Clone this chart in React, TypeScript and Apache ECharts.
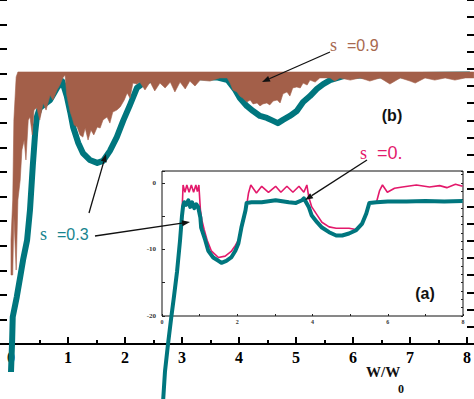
import React, { useEffect, useRef } from "react";
import * as echarts from "echarts";

// ---------- data (main panel b: x = w/w0, y = tick units) ----------
const brownTopX = [0, 0.03, 0.05, 0.09, 0.12, 8.05];
const brownTopY = [4.23, 5.86, 9.12, 10.87, 11.07, 11.07];

const brownLowX = [0.0, 0.03, 0.05, 0.09, 0.12, 0.16, 0.19, 0.23, 0.26, 0.3, 0.33, 0.37, 0.4, 0.45, 0.5, 0.56, 0.61, 0.68, 0.73, 0.8, 0.85, 0.9, 0.94, 0.97, 1.03, 1.06, 1.1, 1.15, 1.2, 1.25, 1.29, 1.34, 1.39, 1.44, 1.5, 1.55, 1.6, 1.67, 1.72, 1.77, 1.84, 1.9, 1.97, 2.02, 2.07, 2.12, 2.19, 2.24, 2.33, 2.42, 2.5, 2.59, 2.68, 2.77, 2.85, 2.94, 3.03, 3.11, 3.2, 3.29, 3.46, 3.63, 3.76, 3.81, 3.86, 3.93, 3.98, 4.03, 4.1, 4.16, 4.21, 4.28, 4.33, 4.38, 4.45, 4.5, 4.56, 4.63, 4.68, 4.73, 4.8, 4.85, 4.9, 4.97, 5.03, 5.08, 5.15, 5.2, 5.29, 5.37, 5.55, 5.63, 5.72, 5.9, 6.07, 6.24, 6.42, 6.59, 6.77, 6.94, 7.03, 7.2, 7.37, 7.55, 7.72, 7.9, 8.05];
const brownLowY = [2.81, 2.81, 5.25, 3.01, 5.86, 6.67, 7.9, 8.3, 7.49, 9.12, 9.24, 8.51, 9.52, 9.61, 9.12, 9.81, 9.52, 10.13, 9.93, 10.34, 10.54, 10.83, 10.95, 10.13, 9.44, 9.24, 8.91, 8.83, 8.51, 8.42, 8.79, 8.3, 8.71, 8.51, 8.83, 8.79, 9.12, 9.24, 8.99, 9.44, 9.52, 9.65, 9.93, 10.22, 10.01, 10.62, 10.58, 10.66, 10.34, 10.66, 10.3, 10.62, 10.42, 10.66, 10.26, 10.66, 10.38, 10.7, 10.5, 10.74, 10.7, 10.83, 10.83, 10.62, 10.34, 10.26, 10.09, 10.01, 9.85, 9.93, 9.77, 9.81, 9.69, 9.77, 9.81, 9.73, 9.89, 9.93, 9.81, 10.18, 10.26, 10.09, 10.42, 10.46, 10.42, 10.62, 10.54, 10.74, 10.66, 10.83, 10.83, 10.7, 10.83, 10.74, 10.83, 10.7, 10.83, 10.58, 10.83, 10.7, 10.62, 10.83, 10.74, 10.83, 10.74, 10.83, 10.83];

const tealMainX = [0.0, 0.02, 0.03, 0.1, 0.16, 0.21, 0.28, 0.33, 0.38, 0.42, 0.45, 0.5, 0.68, 0.8, 0.89, 0.97, 1.03, 1.08, 1.17, 1.25, 1.37, 1.5, 1.6, 1.72, 1.84, 1.95, 2.07, 2.19, 2.3, 2.47, 2.94, 3.58, 3.77, 3.9, 3.98, 4.1, 4.21, 4.33, 4.45, 4.56, 4.64, 4.73, 4.85, 4.97, 5.08, 5.2, 5.32, 5.43, 5.55, 5.81, 7.98];
const tealMainY = [-1.14, 0.16, 1.1, 1.91, 2.73, 3.42, 4.23, 5.45, 7.29, 8.59, 9.24, 9.61, 9.93, 10.42, 10.7, 10.09, 9.44, 8.83, 8.18, 7.77, 7.49, 7.37, 7.45, 7.86, 8.42, 9.08, 9.73, 10.42, 10.62, 10.8, 10.87, 10.85, 10.74, 10.34, 10.01, 9.69, 9.48, 9.28, 9.2, 9.08, 8.99, 9.12, 9.28, 9.48, 9.85, 10.09, 10.38, 10.58, 10.74, 10.92, 10.97];

// ---------- inset (a) ----------
const insetPinkX = [0.03, 0.08, 0.16, 0.24, 0.32, 0.4, 0.48, 0.53, 0.56, 0.61, 0.66, 0.72, 0.78, 0.84, 0.9, 0.94, 0.98, 1.02, 1.06, 1.12, 1.2, 1.31, 1.5, 1.68, 1.84, 1.95, 2.03, 2.11, 2.22, 2.3, 2.36, 2.51, 2.65, 2.83, 3.02, 3.16, 3.32, 3.48, 3.64, 3.77, 3.85, 3.9, 3.98, 4.12, 4.25, 4.44, 4.63, 4.97, 5.16, 5.32, 5.43, 5.51, 5.7, 5.78, 5.86, 5.99, 6.18, 6.39, 6.76, 7.11, 7.38, 7.57, 7.8, 7.99];
const insetPinkY = [-32.7, -28.3, -24.2, -20.5, -17.0, -13.3, -8.6, -4.9, -0.3, -1.4, -0.3, -1.4, -0.3, -1.4, -0.3, -1.3, -0.3, -4.0, -5.6, -7.0, -8.6, -10.2, -11.2, -11.0, -10.3, -9.4, -8.6, -7.0, -4.5, -1.5, -0.3, -1.5, -0.5, -1.4, -0.5, -1.4, -0.5, -1.4, -0.5, -1.4, -0.3, -2.1, -3.6, -4.8, -5.9, -6.6, -6.8, -6.8, -7.0, -6.0, -4.6, -3.0, -2.9, -1.2, -0.3, -1.4, -0.8, -0.6, -0.3, -0.6, -0.4, -0.7, -0.2, -0.5];

const insetTealX = [0.03, 0.08, 0.16, 0.24, 0.32, 0.4, 0.48, 0.53, 0.56, 0.59, 0.64, 0.7, 0.75, 0.8, 0.86, 0.91, 0.96, 1.02, 1.04, 1.15, 1.23, 1.36, 1.5, 1.58, 1.71, 1.84, 1.95, 2.03, 2.11, 2.22, 2.25, 2.38, 2.65, 3.02, 3.37, 3.56, 3.72, 3.77, 3.9, 3.98, 4.12, 4.25, 4.44, 4.63, 4.79, 4.97, 5.16, 5.32, 5.43, 5.51, 5.7, 6.0, 6.5, 7.0, 7.5, 7.99];
const insetTealY = [-32.7, -28.3, -24.2, -20.5, -17.0, -13.3, -8.6, -5.0, -3.5, -2.9, -3.3, -2.6, -3.6, -2.9, -3.8, -3.2, -3.6, -5.2, -6.7, -8.6, -10.2, -11.2, -11.7, -12.0, -11.7, -11.2, -10.2, -9.1, -6.7, -4.1, -3.0, -2.9, -2.9, -2.6, -2.9, -3.0, -2.6, -2.3, -3.6, -4.9, -5.9, -6.7, -7.4, -7.9, -7.9, -7.6, -7.1, -6.1, -4.6, -3.0, -2.9, -2.8, -2.8, -2.7, -2.8, -2.7];

const mainXTicks = [0, 8];
const insetYLabelStep = 10;

// ---------- style ----------
const BROWN = "#a35f49";
const TEAL = "#00767e";
const PINK = "#e3196b";
const SERIF = "'Liberation Serif', 'Times New Roman', serif";
const SANS = "'Liberation Sans', Arial, sans-serif";

const W = 474;
const H = 399;
const AXIS_Y = 344; // main x-axis line
const PX_PER_X = 57.5;
const X0_PX = 11;
const PX_PER_Y = AXIS_Y / 14;

function arrow(x1: number, y1: number, x2: number, y2: number) {
  const a = Math.atan2(y2 - y1, x2 - x1);
  const L = 8;
  const Wd = 3;
  const c = Math.cos(a);
  const s = Math.sin(a);
  const bx = x2 - L * c;
  const by = y2 - L * s;
  return [
    {
      type: "line",
      shape: { x1, y1, x2: bx, y2: by },
      style: { stroke: "#111", lineWidth: 1.3 },
      z: 20,
    },
    {
      type: "polygon",
      shape: {
        points: [
          [x2, y2],
          [bx + Wd * s, by - Wd * c],
          [bx - Wd * s, by + Wd * c],
        ],
      },
      style: { fill: "#111" },
      z: 20,
    },
  ];
}

function label(x: number, y: number, val: string, color: string, size: number) {
  return [
    {
      type: "text",
      x,
      y,
      style: { text: "s", font: `18px ${SERIF}`, fill: color, textVerticalAlign: "middle" },
      z: 20,
    },
    {
      type: "text",
      x: x + 17,
      y,
      style: { text: val, font: `${size}px ${SANS}`, fill: color, textVerticalAlign: "middle" },
      z: 20,
    },
  ];
}

export default function App() {
  const ref = useRef<HTMLDivElement>(null);
  useEffect(() => {
    if (!ref.current) return;
    const chart = echarts.init(ref.current, null, { renderer: "svg" });

    const xMin = -X0_PX / PX_PER_X;
    const xMax = (W - X0_PX) / PX_PER_X;
    const yMin = -(H - AXIS_Y) / PX_PER_Y;

    const hideAxis = { show: false };
    const tickStyle = { color: "#000", width: 2 };

    const option: any = {
      animation: false,
      backgroundColor: "#fff",
      grid: [
        { left: 0, top: 0, width: W, height: AXIS_Y },
        { left: X0_PX + mainXTicks[0] * PX_PER_X, top: 0, width: (mainXTicks[1] - mainXTicks[0]) * PX_PER_X, height: AXIS_Y },
        { left: 0, top: 0, width: W, height: H },
        {
          left: 162,
          top: 171,
          width: 301,
          height: 145,
          show: true,
          borderColor: "#111",
          borderWidth: 1,
          backgroundColor: "rgba(0,0,0,0)",
        },
      ],
      xAxis: [
        {
          gridIndex: 0,
          type: "value",
          min: 0,
          max: 1,
          axisLine: { show: true, onZero: false, lineStyle: { color: "#000", width: 2 } },
          axisTick: hideAxis,
          axisLabel: hideAxis,
          splitLine: hideAxis,
        },
        {
          gridIndex: 1,
          type: "value",
          min: mainXTicks[0],
          max: mainXTicks[1],
          interval: 1,
          axisLine: { show: false, onZero: false },
          axisTick: { show: true, inside: true, length: 7, lineStyle: tickStyle },
          minorTick: { show: true, splitNumber: 2, length: 4, lineStyle: tickStyle },
          axisLabel: {
            fontFamily: SERIF,
            fontWeight: "bold",
            fontSize: 16,
            color: "#000",
            margin: 5,
          },
          splitLine: hideAxis,
        },
        { gridIndex: 2, type: "value", min: xMin, max: xMax, show: false },
        {
          gridIndex: 3,
          type: "value",
          min: 0,
          max: 8,
          interval: 1,
          axisLine: { show: false, onZero: false },
          axisTick: { show: true, inside: true, length: 2, lineStyle: { color: "#222", width: 1 } },
          axisLabel: {
            formatter: (v: number) => (v % 2 === 0 ? String(v) : ""),
            fontFamily: SERIF,
            fontWeight: "bold",
            fontSize: 6,
            color: "#333",
            margin: 3,
          },
          splitLine: hideAxis,
        },
      ],
      yAxis: [
        {
          gridIndex: 0,
          type: "value",
          min: 0,
          max: 14,
          interval: 1,
          position: "left",
          axisLine: { show: false, onZero: false },
          axisTick: { show: true, inside: true, length: 7, lineStyle: tickStyle },
          axisLabel: hideAxis,
          splitLine: hideAxis,
        },
        {
          gridIndex: 0,
          type: "value",
          min: 0,
          max: 20,
          interval: 1,
          position: "right",
          axisLine: { show: false, onZero: false },
          axisTick: { show: true, inside: true, length: 7, lineStyle: tickStyle },
          axisLabel: hideAxis,
          splitLine: hideAxis,
        },
        { gridIndex: 1, type: "value", min: 0, max: 1, show: false },
        { gridIndex: 2, type: "value", min: yMin, max: 14, show: false },
        {
          gridIndex: 3,
          type: "value",
          min: -20,
          max: 1.8,
          interval: 5,
          position: "left",
          axisLine: { show: false, onZero: false },
          axisTick: { show: true, inside: true, length: 3, lineStyle: { color: "#222", width: 1 } },
          axisLabel: {
            formatter: (v: number) => (v % insetYLabelStep === 0 ? String(v) : ""),
            fontFamily: SERIF,
            fontWeight: "bold",
            fontSize: 7,
            color: "#333",
            margin: 6,
          },
          splitLine: hideAxis,
        },
        {
          gridIndex: 3,
          type: "value",
          min: -20,
          max: 1.8,
          interval: 1.25,
          position: "right",
          axisLine: { show: false, onZero: false },
          axisTick: { show: true, inside: true, length: 2, lineStyle: { color: "#222", width: 1 } },
          axisLabel: hideAxis,
          splitLine: hideAxis,
        },
      ],
      series: [
        {
          type: "line",
          name: "s=0.3 main",
          xAxisIndex: 2,
          yAxisIndex: 3,
          data: tealMainX.map((x, i) => [x, tealMainY[i]]),
          showSymbol: false,
          symbol: "none",
          lineStyle: { color: TEAL, width: 6, join: "round" },
          z: 2,
          silent: true,
        },
        {
          type: "custom",
          name: "s=0.9 main",
          xAxisIndex: 2,
          yAxisIndex: 3,
          data: [[0, 0]],
          z: 3,
          silent: true,
          renderItem: (_p: any, api: any) => {
            const pts: number[][] = [];
            brownTopX.forEach((x, i) => pts.push(api.coord([x, brownTopY[i]])));
            for (let i = brownLowX.length - 1; i >= 0; i--) {
              pts.push(api.coord([brownLowX[i], brownLowY[i]]));
            }
            return {
              type: "polygon",
              shape: { points: pts },
              style: { fill: BROWN, stroke: BROWN, lineWidth: 0.6 },
            };
          },
        },
        {
          type: "line",
          name: "s=0 inset",
          xAxisIndex: 3,
          yAxisIndex: 4,
          data: insetPinkX.map((x, i) => [x, insetPinkY[i]]),
          showSymbol: false,
          symbol: "none",
          clip: false,
          lineStyle: { color: PINK, width: 1.6 },
          z: 4,
          silent: true,
        },
        {
          type: "line",
          name: "s=0.3 inset",
          xAxisIndex: 3,
          yAxisIndex: 4,
          data: insetTealX.map((x, i) => [x, insetTealY[i]]),
          showSymbol: false,
          symbol: "none",
          clip: false,
          lineStyle: { color: TEAL, width: 4, join: "round" },
          z: 5,
          silent: true,
        },
      ],
      graphic: [
        ...label(330, 45, "=0.9", "#a8694f", 16),
        ...label(40, 234, "=0.3", "#17848e", 16),
        ...label(360, 153, "=0.", PINK, 18),
        {
          type: "text",
          x: 392,
          y: 115,
          style: { text: "(b)", font: `bold 16px ${SANS}`, fill: "#111", textAlign: "center", textVerticalAlign: "middle" },
          z: 20,
        },
        {
          type: "text",
          x: 425,
          y: 293,
          style: { text: "(a)", font: `bold 16px ${SANS}`, fill: "#111", textAlign: "center", textVerticalAlign: "middle" },
          z: 20,
        },
        {
          type: "text",
          x: 366,
          y: 372,
          style: { text: "W/W", font: `bold 15px ${SERIF}`, fill: "#111", textVerticalAlign: "middle" },
          z: 20,
        },
        {
          type: "text",
          x: 398,
          y: 389,
          style: { text: "0", font: `bold 12px ${SERIF}`, fill: "#111", textVerticalAlign: "middle" },
          z: 20,
        },
        ...arrow(330, 52, 262, 82),
        ...arrow(89, 213, 106, 154),
        ...arrow(95, 236, 190, 222),
        ...arrow(367, 160, 305, 200),
      ],
    };

    chart.setOption(option);
    return () => chart.dispose();
  }, []);

  return (
    <div
      ref={ref}
      style={{ position: "absolute", left: 0, top: 0, width: W, height: H }}
    />
  );
}
